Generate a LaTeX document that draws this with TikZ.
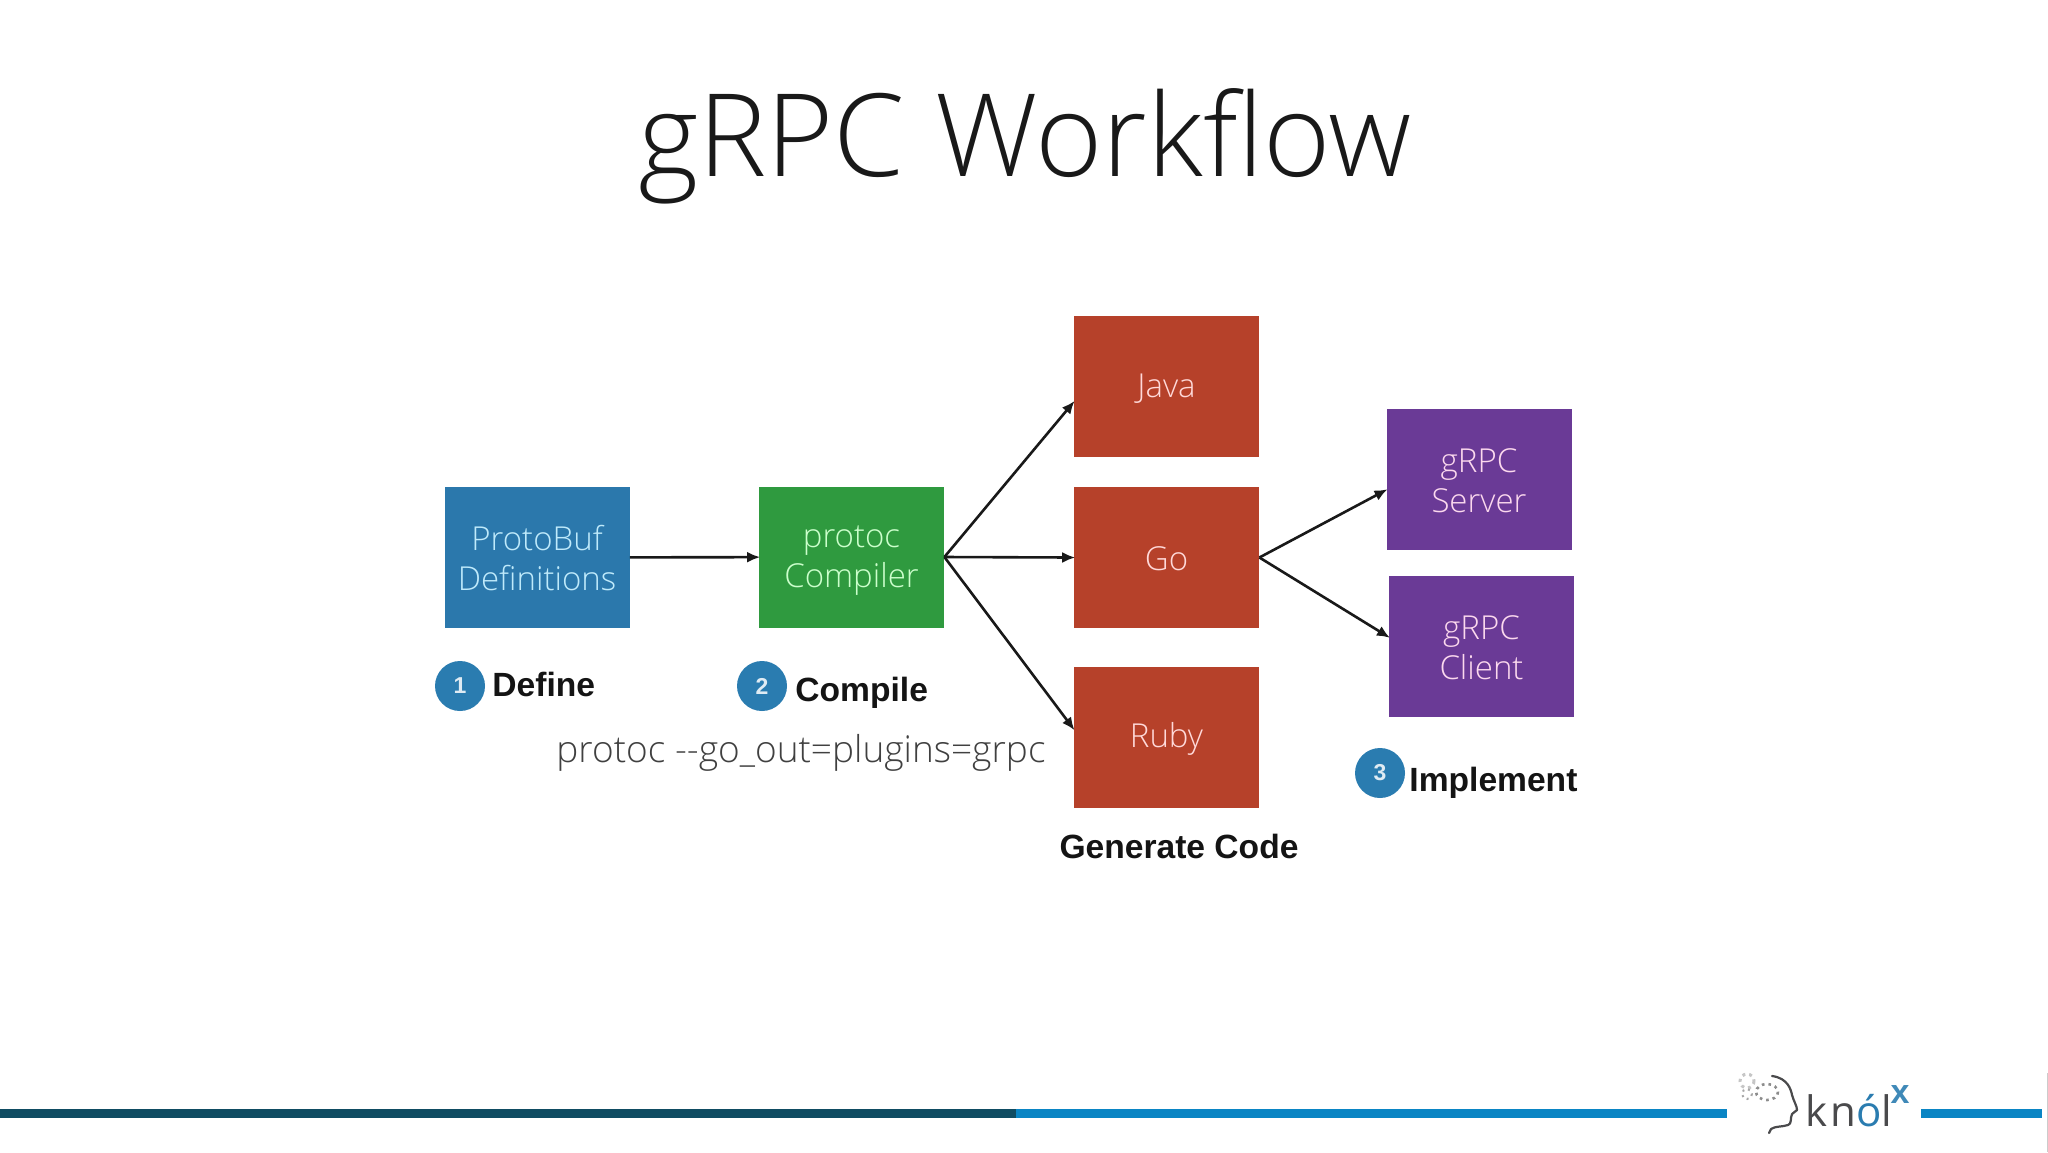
\documentclass[tikz,border=0pt]{standalone}
\usepackage{fontspec}
\setmainfont{Liberation Sans}
\newfontfamily\lightf{Open Sans Light}
\newfontfamily\logof[LetterSpace=7]{Open Sans}
\usetikzlibrary{calc,arrows.meta}
\definecolor{bluebox}{HTML}{2B78AC}
\definecolor{greenbox}{HTML}{2F9A3F}
\definecolor{redbox}{HTML}{B6412A}
\definecolor{purplebox}{HTML}{6A3A96}
\definecolor{numc}{HTML}{2A7CB0}
\definecolor{bardark}{HTML}{0F4C62}
\definecolor{barblue}{HTML}{0A85C4}
\definecolor{logogray}{HTML}{4A4A4C}
\newcommand{\ls}{\rule[-1.5pt]{0pt}{15.8pt}}
\tikzset{
 x=0.5pt,y=-0.5pt,
 boxn/.style={rectangle,inner sep=0pt,align=center,minimum width=92.5pt,minimum height=70.5pt,font=\fontsize{16.5}{20}\selectfont\lightf},
 flow/.style={draw=black!90,line width=1.3pt,shorten >=-0.8pt,-{Latex[length=6.5pt,width=5.5pt]}},
 numb/.style={circle,fill=numc,inner sep=0pt,minimum size=25pt,text=white!85!numc,font=\fontsize{11.5}{13}\selectfont\bfseries},
 steplabel/.style={inner sep=0pt,anchor=west,font=\fontsize{16.8}{20}\selectfont\bfseries,text=black!92},
 bar/.style={inner sep=0pt,minimum height=4.5pt,anchor=west}
}
\begin{document}
\begin{tikzpicture}
\useasboundingbox (0,0) rectangle (2048,1152);
\fill[white] (0,0) rectangle (2048,1152);
\node[font=\fontsize{57.5}{65}\selectfont\lightf,text=black!90,inner sep=0pt,anchor=base] (title) at (1025,176) {gRPC Workflow};
\node[boxn,fill=bluebox,text=cyan!25!white] (proto) at (537,557.5) {\ls ProtoBuf\\\ls Definitions};
\node[boxn,fill=greenbox,text=green!20!white] (protoc) at (851.5,557) {\ls protoc\\\ls Compiler};
\node[boxn,fill=redbox,text=red!15!white] (java) at (1166.5,386.5) {\ls Java};
\node[boxn,fill=redbox,text=red!15!white] (go) at (1166.5,557.5) {\ls Go};
\node[boxn,fill=redbox,text=red!15!white] (ruby) at (1166.5,737.5) {\ls Ruby};
\node[boxn,fill=purplebox,text=magenta!15!white] (server) at (1479,479.5) {\ls gRPC\\\ls Server};
\node[boxn,fill=purplebox,text=magenta!15!white] (client) at (1481.5,646.5) {\ls gRPC\\\ls Client};
\draw[flow] (proto) -- (protoc);
\draw[flow] (protoc.east) -- ($(java.north west)!0.61!(java.south west)$);
\draw[flow] (protoc.east) -- (go.west);
\draw[flow] (protoc.east) -- ($(ruby.north west)!0.44!(ruby.south west)$);
\draw[flow] (go.east) -- ($(server.north west)!0.574!(server.south west)$);
\draw[flow] (go.east) -- ($(client.north west)!0.433!(client.south west)$);
\node[numb] (n1) at (460,686) {1};
\node[numb] (n2) at (762,686) {2};
\node[numb] (n3) at (1380,773) {3};
\node[steplabel] (define) at (492,684) {Define};
\node[steplabel] (compile) at (795,693) {Compile};
\node[steplabel] (implement) at (1409,783) {Implement};
\node[steplabel,anchor=center] (gen) at (1179,846) {Generate Code};
\node[inner sep=0pt,font=\fontsize{18.5}{22}\selectfont\lightf,text=black!75] (cmd) at (801,753) {protoc --go\_out=plugins=grpc};
\node[bar,fill=bardark,minimum width=508pt] (b1) at (0,1113) {};
\node[bar,fill=barblue,minimum width=355.5pt] (b2) at (1016,1113) {};
\node[bar,fill=barblue,minimum width=60.5pt] (b3) at (1921,1113) {};
\draw[black!20,line width=0.5pt] (2047,1073) -- (2047,1152);
% logo
\draw[logogray,line width=1.1pt,line cap=round,line join=round] (1772,1076) .. controls (1788,1078) and (1791,1090) .. (1792,1095) .. controls (1794,1102) and (1797,1106) .. (1797,1110) -- (1792,1114) .. controls (1790,1118) and (1792,1124) .. (1788,1125) .. controls (1782,1127) and (1775,1126) .. (1771,1129) -- (1769,1133);
\draw[gray!90,line width=1.3pt,dotted] (1767,1092) ellipse (11 and 8);
\draw[gray!45,line width=1.5pt,dotted] (1747,1081) circle (7);
\draw[gray!70,line width=1pt,dotted] (1747,1094) circle (5);
\node[inner sep=0pt,anchor=base west,font=\fontsize{21}{22}\selectfont\logof,text=logogray] (logo) at (1805,1126) {kn\textcolor{numc}{ó}l};
\node[inner sep=0pt,font=\fontsize{17}{16}\selectfont\bfseries,text=numc!90!white] (logox) at (1900,1094) {x};
\end{tikzpicture}
\end{document}
